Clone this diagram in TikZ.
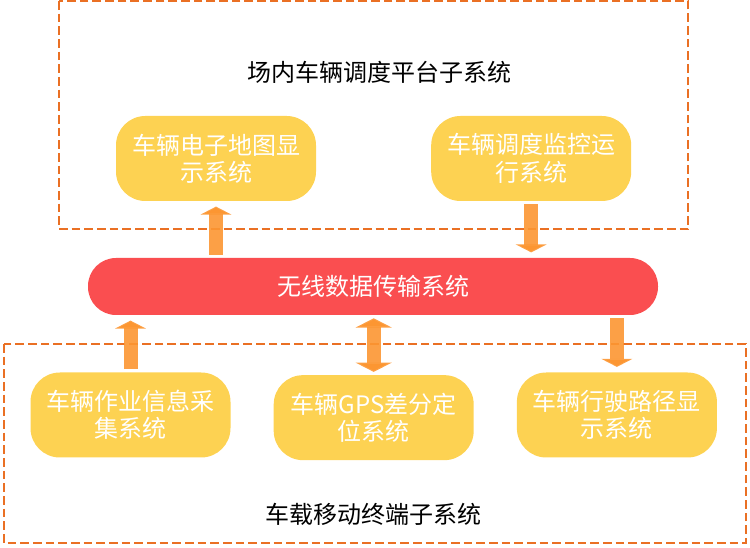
\documentclass[tikz,border=0pt]{standalone}
\usepackage{fontspec}
\setmainfont{Noto Sans CJK SC}
\usetikzlibrary{arrows.meta, positioning}
\definecolor{boxyellow}{RGB}{253,210,82}
\definecolor{busred}{RGB}{250,78,80}
\definecolor{arroworange}{RGB}{252,150,50}
\definecolor{groupline}{RGB}{234,112,36}

\tikzset{
  sysbox/.style={fill=boxyellow, text=white, rounded corners=22pt,
    minimum width=150pt, minimum height=63.75pt, align=center,
    font=\fontsize{18}{20.5}\selectfont},
  bus/.style={fill=busred, text=white, rounded corners=21pt,
    minimum width=427.5pt, minimum height=42.75pt,
    font=\fontsize{18}{20}\selectfont},
  group/.style={draw=groupline, line width=1.8pt, dash pattern=on 6.5pt off 3pt},
  flow/.style={draw=arroworange, draw opacity=0.9, line width=10.5pt,
    -{Triangle[length=6pt,width=23pt]}, shorten <=2.25pt, shorten >=4pt},
  dflow/.style={flow, {Triangle[length=7pt,width=27pt]}-{Triangle[length=7pt,width=27pt]},
    shorten <=2.25pt, shorten >=2.25pt},
  title/.style={font=\fontsize{18}{20}\selectfont}
}

\begin{document}
\begin{tikzpicture}[x=0.75pt,y=-0.75pt]
  \useasboundingbox (0,0) rectangle (750,548);

  % subsystem frames
  \draw[group] (59,1) rectangle (688,229);
  \draw[group] (4,344) rectangle (746,543);

  \node (bus) [bus] at (373,286.5) {无线数据传输系统};

  \node (platform) [title] at (379,72) {场内车辆调度平台子系统};
  \node (map) [sysbox] at (216,158.5) {车辆电子地图显\\示系统};
  \node (monitor) [sysbox, right=86pt of map] {车辆调度监控运\\行系统};

  \node (terminal) [title] at (373,514) {车载移动终端子系统};
  \node (collect) [sysbox] at (130.5,415) {车辆作业信息采\\集系统};
  \node (gps) [sysbox, right=32pt of collect, yshift=-2pt] {车辆GPS差分定\\位系统};
  \node (route) [sysbox, right=32pt of gps, yshift=2pt] {车辆行驶路径显\\示系统};

  \draw[flow] (bus.north -| map.south) -- (map.south);
  \draw[flow] (monitor.south) -- (bus.north -| monitor.south);
  \draw[flow] (collect.north) -- (bus.south -| collect.north);
  \draw[dflow] (bus.south -| gps.north) -- (gps.north);
  \draw[flow] (bus.south -| route.north) -- (route.north);
\end{tikzpicture}
\end{document}
